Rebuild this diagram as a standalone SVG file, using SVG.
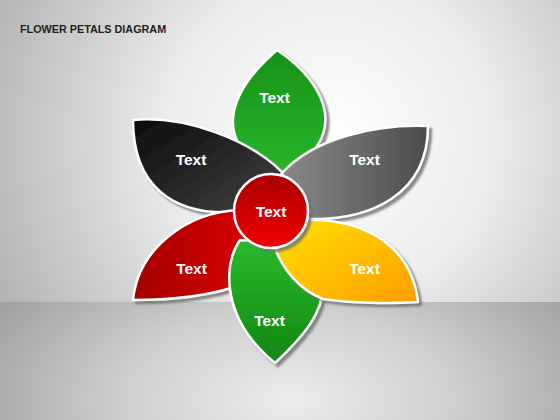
<svg xmlns="http://www.w3.org/2000/svg" width="560" height="420" viewBox="0 0 560 420">
<defs>
<radialGradient id="bgTop" cx="330" cy="140" r="360" gradientUnits="userSpaceOnUse">
<stop offset="0" stop-color="#ffffff"/>
<stop offset="0.45" stop-color="#ececec"/>
<stop offset="1" stop-color="#b4b4b4"/>
</radialGradient>
<radialGradient id="bgFloor" cx="290" cy="400" r="330" gradientTransform="translate(290 400) scale(1 0.55) translate(-290 -400)" gradientUnits="userSpaceOnUse">
<stop offset="0" stop-color="#ececec"/>
<stop offset="0.5" stop-color="#cfcfcf"/>
<stop offset="1" stop-color="#a2a2a2"/>
</radialGradient>
<linearGradient id="gTop" x1="0" y1="0" x2="0" y2="1">
<stop offset="0" stop-color="#17921a"/>
<stop offset="1" stop-color="#29b629"/>
</linearGradient>
<linearGradient id="gBot" x1="0" y1="0" x2="0" y2="1">
<stop offset="0" stop-color="#2bba2b"/>
<stop offset="1" stop-color="#118612"/>
</linearGradient>
<linearGradient id="gBlack" x1="0" y1="0" x2="1" y2="1">
<stop offset="0" stop-color="#0c0c0c"/>
<stop offset="1" stop-color="#424242"/>
</linearGradient>
<linearGradient id="gGray" x1="0" y1="0" x2="1" y2="0">
<stop offset="0" stop-color="#8e8e8e"/>
<stop offset="1" stop-color="#4c4c4c"/>
</linearGradient>
<linearGradient id="gRed" x1="0" y1="0" x2="1" y2="0">
<stop offset="0" stop-color="#a30000"/>
<stop offset="1" stop-color="#e20000"/>
</linearGradient>
<linearGradient id="gYellow" x1="0" y1="0" x2="1" y2="1">
<stop offset="0" stop-color="#ffe600"/>
<stop offset="1" stop-color="#ff9c00"/>
</linearGradient>
<linearGradient id="gCircle" x1="0" y1="0" x2="0" y2="1">
<stop offset="0" stop-color="#a80000"/>
<stop offset="1" stop-color="#f20000"/>
</linearGradient>
<filter id="shadow" x="-20%" y="-20%" width="140%" height="140%">
<feDropShadow dx="3" dy="3" stdDeviation="1" flood-color="#6e6e6e" flood-opacity="0.8"/>
</filter>
</defs>
<style>
.petal{stroke:#ffffff;stroke-width:2.5;stroke-linejoin:round;filter:url(#shadow);}
.lbl{font-family:"Liberation Sans",Arial,sans-serif;font-weight:bold;font-size:15.5px;fill:#ffffff;text-anchor:middle;}
.title{font-family:"Liberation Sans",Arial,sans-serif;font-weight:bold;font-size:10.8px;fill:#222222;}
</style>
<rect x="0" y="0" width="560" height="302" fill="url(#bgTop)"/>
<rect x="0" y="302" width="560" height="118" fill="url(#bgFloor)"/>
<text class="title" x="20" y="32.5">FLOWER PETALS DIAGRAM</text>
<g id="petal-top">
<path class="petal" fill="url(#gTop)" d="M282,175 C210,148 225,95 277,50 C330,85 350,140 282,175 Z"/>
<text class="lbl" x="274.5" y="102.5">Text</text>
</g>
<g id="petal-black">
<path class="petal" fill="url(#gBlack)" d="M133,120 C185,115 250,140 282,172 L270,211 L236,212 C172,216 133,185 133,120 Z"/>
<text class="lbl" x="191" y="165">Text</text>
</g>
<g id="petal-gray">
<path class="petal" fill="url(#gGray)" d="M428,126 C375,124 315,138 283,172 L270,211 L310,219 C370,220 428,195 428,126 Z"/>
<text class="lbl" x="364.5" y="165">Text</text>
</g>
<g id="petal-red">
<path class="petal" fill="url(#gRed)" d="M133,300 C138,250 185,212 240,210 L270,211 L240,285 C210,296 170,300 133,300 Z"/>
<text class="lbl" x="191.5" y="274">Text</text>
</g>
<g id="petal-bottom">
<path class="petal" fill="url(#gBot)" d="M240,240 C222,265 222,320 275,363 C305,335 325,310 322,285 L300,245 Z"/>
<text class="lbl" x="269.5" y="326">Text</text>
</g>
<g id="petal-yellow">
<path class="petal" fill="url(#gYellow)" d="M275,248 C283,270 300,290 323,299 C350,303 390,304 418,302 C412,250 370,218 305,220 L270,211 Z"/>
<text class="lbl" x="364.5" y="274">Text</text>
</g>
<g id="center">
<circle class="petal" cx="271" cy="211" r="37" fill="url(#gCircle)"/>
<text class="lbl" x="271" y="216.5">Text</text>
</g>
<g id="connectors"/>
</svg>
